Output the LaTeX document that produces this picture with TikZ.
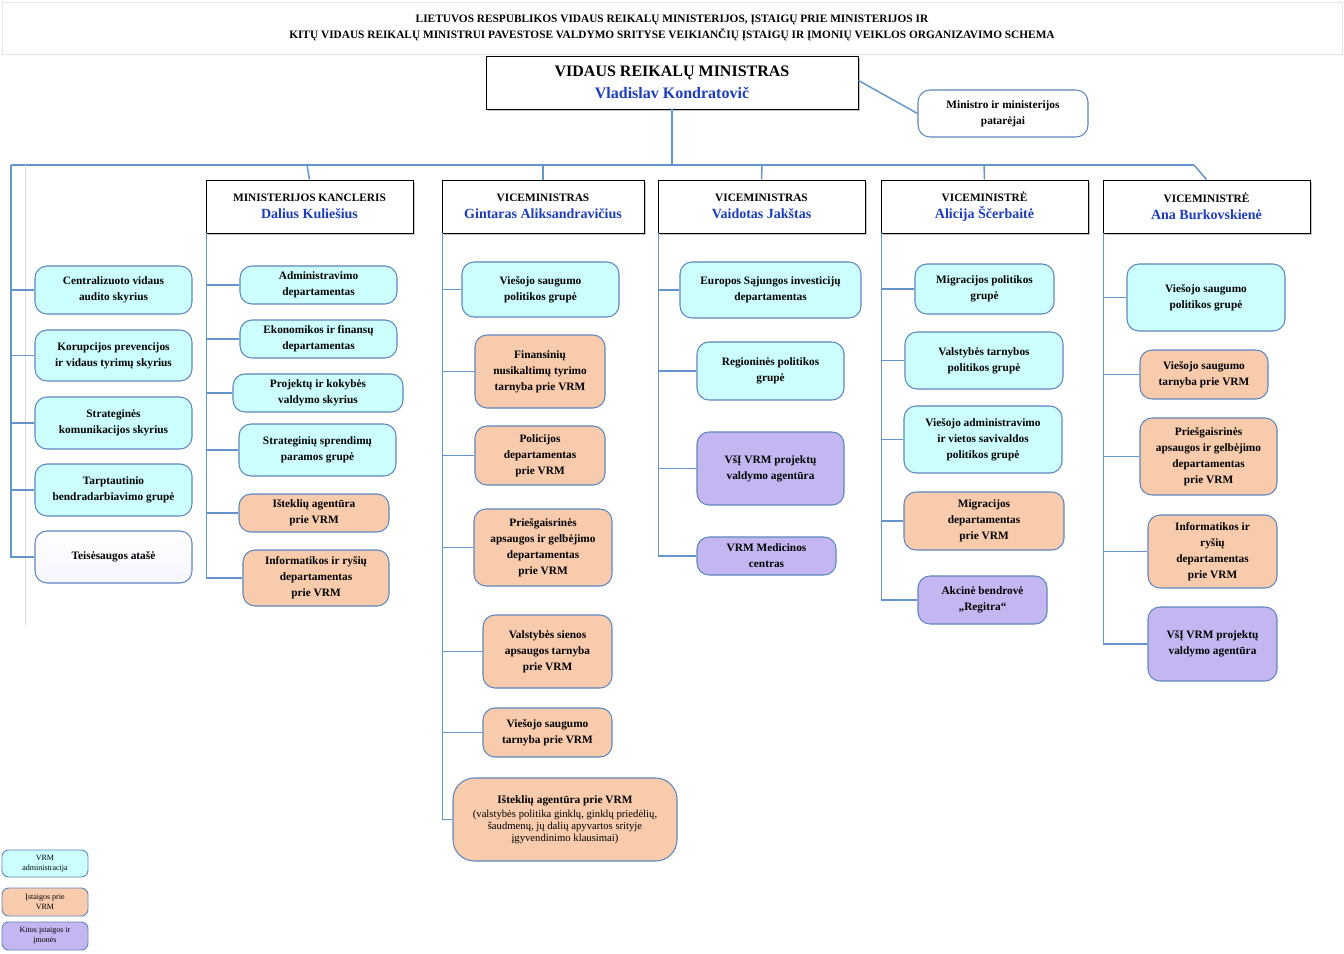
\documentclass[tikz,border=0pt]{standalone}
\usepackage{fontspec}
\setmainfont{Liberation Serif}
\usetikzlibrary{shadows}
\definecolor{cy}{RGB}{204,255,255}
\definecolor{orq}{RGB}{248,203,173}
\definecolor{pur}{RGB}{196,182,240}
\definecolor{bd}{RGB}{95,135,190}
\definecolor{ln}{RGB}{100,150,205}
\definecolor{nm}{RGB}{30,60,190}
\newcommand\bx[7]{\node[#1, minimum width={(#5-#3)*0.75pt}, minimum height={(#6-#4)*0.75pt}] (#2) at ({(#3+#5)/2},{(#4+#6)/2}) {#7};}
\begin{document}
\begin{tikzpicture}[x=0.75pt,y=-0.75pt,
 rb/.style={draw=bd, line width=0.8pt, rounded corners=9pt, align=center, inner sep=1pt, font=\bfseries\fontsize{8.5}{12}\selectfont},
 c/.style={rb, fill=cy}, o/.style={rb, fill=orq}, p/.style={rb, fill=pur},
 hd/.style={draw=black, line width=0.7pt, fill=white, align=center, inner sep=1pt, drop shadow={opacity=0.45, shadow xshift=1.5pt, shadow yshift=-1.5pt}, font=\bfseries\fontsize{8.5}{13}\selectfont},
 lg/.style={draw=bd, line width=0.7pt, rounded corners=5pt, align=center, inner sep=0pt, font=\fontsize{6}{7.5}\selectfont},
 cn/.style={draw=ln, line width=1.1pt}]
\useasboundingbox (0,0) rectangle (1344,953);
\fill[white] (0,0) rectangle (1344,953);
% title
\bx{draw=black!10, align=center, font=\bfseries\fontsize{8.5}{12.5}\selectfont}{title}{2}{2}{1342}{54}{LIETUVOS RESPUBLIKOS VIDAUS REIKALŲ MINISTERIJOS, ĮSTAIGŲ PRIE MINISTERIJOS IR\\KITŲ VIDAUS REIKALŲ MINISTRUI PAVESTOSE VALDYMO SRITYSE VEIKIANČIŲ ĮSTAIGŲ IR ĮMONIŲ VEIKLOS ORGANIZAVIMO SCHEMA}
% minister
\bx{hd, font=\bfseries\fontsize{12}{16.5}\selectfont}{min}{486}{56}{858}{109}{VIDAUS REIKALŲ MINISTRAS\\\textcolor{nm}{Vladislav Kondratovič}}
\bx{rb, fill=white, draw=bd}{adv}{918}{90}{1088}{137}{Ministro ir ministerijos\\patarėjai}
\draw[cn] (min.east) ++(0,-2) -- (adv.west);
% bar
\coordinate (b0) at (672,165);
\draw[cn] (min.south) -- (b0);
\draw[cn] (11,165) -- (1194,165);
\draw[black!15] (25,165) -- (25,625);
% headers
\bx{hd}{k}{206}{180}{413}{233}{MINISTERIJOS KANCLERIS\\\textcolor{nm}{\fontsize{10.5}{13}\selectfont Dalius Kuliešius}}
\bx{hd}{v1}{442}{180}{644}{233}{VICEMINISTRAS\\\textcolor{nm}{\fontsize{10.5}{13}\selectfont Gintaras Aliksandravičius}}
\bx{hd}{v2}{658}{180}{865}{233}{VICEMINISTRAS\\\textcolor{nm}{\fontsize{10.5}{13}\selectfont Vaidotas Jakštas}}
\bx{hd}{v3}{881}{180}{1088}{233}{VICEMINISTRĖ\\\textcolor{nm}{\fontsize{10.5}{13}\selectfont Alicija Ščerbaitė}}
\bx{hd}{v4}{1103}{180}{1310}{233}{VICEMINISTRĖ\\\textcolor{nm}{\fontsize{10.5}{13}\selectfont Ana Burkovskienė}}
\foreach \n/\x in {k/307,v1/543,v2/762,v3/984,v4/1194}{\draw[cn] (\x,165) -- (\n.north);}
% left column
\bx{c}{l1}{35}{266}{192}{314}{Centralizuoto vidaus\\audito skyrius}
\bx{c}{l2}{35}{330}{192}{381}{Korupcijos prevencijos\\ir vidaus tyrimų skyrius}
\bx{c}{l3}{35}{397}{192}{449}{Strateginės\\komunikacijos skyrius}
\bx{c}{l4}{35}{464}{192}{516}{Tarptautinio\\bendradarbiavimo grupė}
\bx{rb, fill=white, left color=white, right color=white, top color=white, bottom color=blue!4}{l5}{35}{531}{192}{583}{Teisėsaugos atašė}
\draw[cn] (11,165) |- (l5.west);
\foreach \n in {l1,l2,l3,l4}{\draw[cn] (11,0 |- \n.west) -- (\n.west);}
% K column
\bx{c}{k1}{240}{266}{397}{304}{Administravimo\\departamentas}
\bx{c}{k2}{240}{320}{397}{358}{Ekonomikos ir finansų\\departamentas}
\bx{c}{k3}{233}{374}{403}{412}{Projektų ir kokybės\\valdymo skyrius}
\bx{c}{k4}{239}{424}{396}{476}{Strateginių sprendimų\\paramos grupė}
\bx{o}{k5}{239}{494}{389}{532}{Išteklių agentūra\\prie VRM}
\bx{o}{k6}{243}{550}{389}{606}{Informatikos ir ryšių\\departamentas\\prie VRM}
\draw[cn] (k.south west) ++(1,0) |- (k6.west);
\foreach \n in {k1,k2,k3,k4,k5}{\draw[cn] (207,0 |- \n.west) -- (\n.west);}
% V1 column
\bx{c}{a1}{462}{262}{619}{317}{Viešojo saugumo\\politikos grupė}
\bx{o}{a2}{475}{335}{605}{408}{Finansinių\\nusikaltimų tyrimo\\tarnyba prie VRM}
\bx{o}{a3}{475}{426}{605}{485}{Policijos\\departamentas\\prie VRM}
\bx{o}{a4}{474}{509}{612}{586}{Priešgaisrinės\\apsaugos ir gelbėjimo\\departamentas\\prie VRM}
\bx{o}{a5}{483}{615}{612}{688}{Valstybės sienos\\apsaugos tarnyba\\prie VRM}
\bx{o}{a6}{483}{708}{612}{757}{Viešojo saugumo\\tarnyba prie VRM}
\bx{o, rounded corners=16pt}{a7}{453}{778}{677}{861}{Išteklių agentūra prie VRM\\[-1pt]{\mdseries\fontsize{8}{10.5}\selectfont (valstybės politika ginklų, ginklų priedėlių,}\\[-3pt]{\mdseries\fontsize{8}{10.5}\selectfont šaudmenų, jų dalių apyvartos srityje}\\[-3pt]{\mdseries\fontsize{8}{10.5}\selectfont įgyvendinimo klausimai)}}
\draw[cn] (v1.south west) ++(1,0) |- (a7.west);
\foreach \n in {a1,a2,a3,a4,a5,a6}{\draw[cn] (443,0 |- \n.west) -- (\n.west);}
% V2 column
\bx{c}{b1}{680}{262}{861}{318}{Europos Sąjungos investicijų\\departamentas}
\bx{c}{b2}{697}{342}{844}{400}{Regioninės politikos\\grupė}
\bx{p}{b3}{697}{432}{844}{505}{VšĮ VRM projektų\\valdymo agentūra}
\bx{p}{b4}{697}{537}{836}{575}{VRM Medicinos\\centras}
\draw[cn] (v2.south west) ++(1,0) |- (b4.west);
\foreach \n in {b1,b2,b3}{\draw[cn] (659,0 |- \n.west) -- (\n.west);}
% V3 column
\bx{c}{d1}{915}{264}{1054}{314}{Migracijos politikos\\grupė}
\bx{c}{d2}{905}{332}{1063}{389}{Valstybės tarnybos\\politikos grupė}
\bx{c}{d3}{904}{406}{1062}{473}{Viešojo administravimo\\ir vietos savivaldos\\politikos grupė}
\bx{o}{d4}{904}{492}{1064}{550}{Migracijos\\departamentas\\prie VRM}
\bx{p}{d5}{918}{576}{1047}{624}{Akcinė bendrovė\\„Regitra“}
\draw[cn] (v3.south west) ++(1,0) |- (d5.west);
\foreach \n in {d1,d2,d3,d4}{\draw[cn] (882,0 |- \n.west) -- (\n.west);}
% V4 column
\bx{c}{e1}{1127}{264}{1285}{331}{Viešojo saugumo\\politikos grupė}
\bx{o}{e2}{1140}{350}{1268}{399}{Viešojo saugumo\\tarnyba prie VRM}
\bx{o}{e3}{1140}{418}{1277}{495}{Priešgaisrinės\\apsaugos ir gelbėjimo\\departamentas\\prie VRM}
\bx{o}{e4}{1148}{515}{1277}{588}{Informatikos ir\\ryšių\\departamentas\\prie VRM}
\bx{p}{e5}{1148}{607}{1277}{681}{VšĮ VRM projektų\\valdymo agentūra}
\draw[cn] (v4.south west) ++(1,0) |- (e5.west);
\foreach \n in {e1,e2,e3,e4}{\draw[cn] (1104,0 |- \n.west) -- (\n.west);}
% legend
\bx{lg, fill=cy}{g1}{2}{850}{88}{877}{VRM\\administracija}
\bx{lg, fill=orq}{g2}{2}{888}{88}{916}{Įstaigos prie\\VRM}
\bx{lg, fill=pur}{g3}{2}{922}{88}{950}{Kitos įstaigos ir\\įmonės}
\end{tikzpicture}
\end{document}
